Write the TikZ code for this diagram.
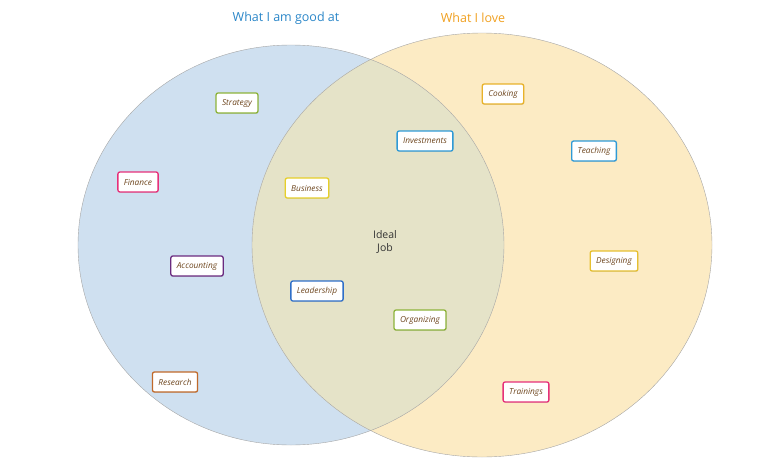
\documentclass[tikz,border=0pt]{standalone}
\usepackage{fontspec}
\setmainfont{Open Sans}
\usetikzlibrary{shadows}
\definecolor{lblue}{RGB}{207,224,240}
\definecolor{lyel}{RGB}{252,235,196}
\definecolor{mix}{RGB}{229,227,200}
\definecolor{txt}{RGB}{110,70,30}
\definecolor{cgreen}{RGB}{141,179,58}
\definecolor{cpink}{RGB}{230,49,122}
\definecolor{cpurple}{RGB}{106,42,127}
\definecolor{cbrown}{RGB}{192,105,42}
\definecolor{cyellow}{RGB}{230,207,42}
\definecolor{cblue}{RGB}{47,154,214}
\definecolor{cdblue}{RGB}{47,111,200}
\definecolor{corange}{RGB}{232,178,42}
\definecolor{cgold}{RGB}{230,192,48}
\definecolor{tblue}{RGB}{42,134,200}
\definecolor{torange}{RGB}{240,160,32}
\begin{document}
\begin{tikzpicture}[x=1pt,y=-1pt,
  tag/.style={draw=#1,line width=1.3pt,rounded corners=2pt,fill=white,font=\itshape\fontsize{8.3}{10}\selectfont,text=txt,minimum height=20pt,inner xsep=6pt,drop shadow={opacity=0.25,shadow xshift=0.5pt,shadow yshift=-0.8pt}},
  ttl/.style={font=\fontsize{12.5}{15}\selectfont}]
\useasboundingbox (0,0) rectangle (768,471);
\fill[lblue] (291,245) ellipse [x radius=213,y radius=200];
\fill[lyel] (482,245) ellipse [x radius=230,y radius=212];
\begin{scope}
\clip (291,245) ellipse [x radius=213,y radius=200];
\fill[mix] (482,245) ellipse [x radius=230,y radius=212];
\end{scope}
\draw[gray!70,line width=0.4pt] (291,245) ellipse [x radius=213,y radius=200];
\draw[gray!70,line width=0.4pt] (482,245) ellipse [x radius=230,y radius=212];
\node[ttl,text=tblue] (t1) at (286,18) {What I am good at};
\node[ttl,text=torange] (t2) at (473,18) {What I love};
\node[align=center,font=\fontsize{10.5}{13}\selectfont,text=black!80] (ij) at (385,242) {Ideal\\Job};
\node[tag=cgreen] (a) at (237,103) {Strategy};
\node[tag=cpink] (b) at (138,182) {Finance};
\node[tag=cpurple] (c) at (197,266) {Accounting};
\node[tag=cbrown] (d) at (175,382) {Research};
\node[tag=cyellow] (e) at (307,188) {Business};
\node[tag=cblue] (f) at (425,141) {Investments};
\node[tag=cdblue] (g) at (317,291) {Leadership};
\node[tag=cgreen] (h) at (420,320) {Organizing};
\node[tag=corange] (i) at (503,94) {Cooking};
\node[tag=cblue] (j) at (594,151) {Teaching};
\node[tag=cgold] (k) at (614,261) {Designing};
\node[tag=cpink] (l) at (526,392) {Trainings};
\end{tikzpicture}
\end{document}
